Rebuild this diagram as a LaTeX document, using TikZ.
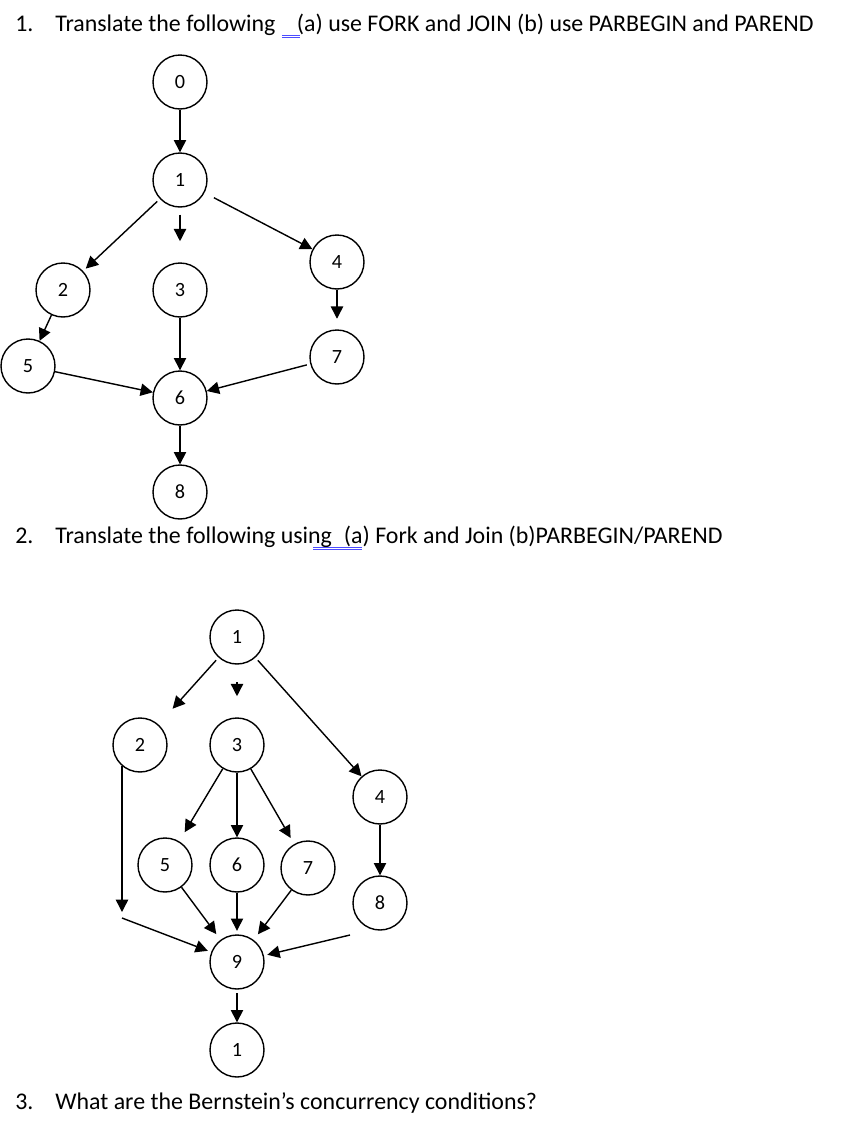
\documentclass[tikz,border=0pt]{standalone}
\usepackage{fontspec}
\setmainfont{Carlito}
\usetikzlibrary{arrows.meta}
\tikzset{
  proc/.style={draw,circle,thick,minimum size=1.08cm,inner sep=0pt,font=\fontsize{11.5}{13}\selectfont},
  flow/.style={thick,-{Triangle[length=7pt,width=7pt]}},
  qtext/.style={anchor=base west,inner sep=0pt,font=\fontsize{13.6}{16}\selectfont},
}
\begin{document}
\begin{tikzpicture}[x=0.02cm,y=-0.02cm]
    \useasboundingbox[fill=white] (0,0) rectangle (840,1140);

    % questions
    \node[qtext] (n1) at (15,31) {1.};
    \node[qtext] (q1) at (55,31) {Translate the following\hspace{0.9em}(a) use FORK and JOIN (b) use PARBEGIN and PAREND};
    \node[qtext] (n2) at (15,543) {2.};
    \node[qtext] (q2) at (55,543) {Translate the following using\hspace{0.5em}(a) Fork and Join (b)PARBEGIN/PAREND};
    \node[qtext] (n3) at (15,1109) {3.};
    \node[qtext] (q3) at (55,1109) {What are the Bernstein’s concurrency conditions?};
    \draw[blue!70,thin] (282,35) -- (300,35) (282,37) -- (300,37);
    \draw[blue!70,thin] (313,547) -- (362,547) (313,549) -- (362,549);

    % first graph
    \node[proc] (A0) at (180,82) {0};
    \node[proc] (A1) at (180,180) {1};
    \node[proc] (A2) at (63,290) {2};
    \node[proc] (A3) at (180,290) {3};
    \node[proc] (A4) at (337,262) {4};
    \node[proc] (A5) at (28,366) {5};
    \node[proc] (A6) at (180,398) {6};
    \node[proc] (A7) at (337,357) {7};
    \node[proc] (A8) at (180,492) {8};

    \draw[flow] (A0) -- (A1);
    \draw[flow,shorten <=2pt,shorten >=2pt] (A1) -- (A2);
    \draw[flow,shorten <=4pt,shorten >=12pt] (A1) -- (A3);
    \draw[flow,shorten <=6pt] (A1) -- (A4);
    \draw[flow] (A2) -- (A5);
    \draw[flow] (A3) -- (A6);
    \draw[flow,shorten >=6pt] (A4) -- (A7);
    \draw[flow] (A5) -- (A6);
    \draw[flow,shorten <=2pt] (A7) -- (A6);
    \draw[flow] (A6) -- (A8);

    % second graph
    \node[proc] (B1) at (237,637) {1};
    \node[proc] (B2) at (140,745) {2};
    \node[proc] (B3) at (237,745) {3};
    \node[proc] (B4) at (380,797) {4};
    \node[proc] (B5) at (165,865) {5};
    \node[proc] (B6) at (237,865) {6};
    \node[proc] (B7) at (308,868) {7};
    \node[proc] (B8) at (380,903) {8};
    \node[proc] (B9) at (237,962) {9};
    \node[proc] (B10) at (237,1050) {1};
    \coordinate (C2) at (122,912);
    \coordinate (C2a) at (122,766);
    \coordinate (C2b) at (122,918);
    \coordinate (C8) at (350,935);

    \draw[flow,shorten <=2pt,shorten >=12pt] (B1) -- (B2);
    \draw[flow,shorten <=10pt,shorten >=12pt] (B1) -- (B3);
    \draw[flow,shorten <=2pt] (B1) -- (B4);
    \draw[flow] (C2a) -- (C2);
    \draw[flow,shorten >=2pt] (C2b) -- (B9);
    \draw[flow,shorten >=6pt] (B3) -- (B5);
    \draw[flow] (B3) -- (B6);
    \draw[flow,shorten >=4pt] (B3) -- (B7);
    \draw[flow,shorten >=4pt] (B5) -- (B9);
    \draw[flow,shorten >=2pt] (B6) -- (B9);
    \draw[flow,shorten >=4pt] (B7) -- (B9);
    \draw[flow,shorten >=2pt] (C8) -- (B9);
    \draw[flow] (B4) -- (B8);
    \draw[flow,shorten <=2pt] (B9) -- (B10);
\end{tikzpicture}
\end{document}
